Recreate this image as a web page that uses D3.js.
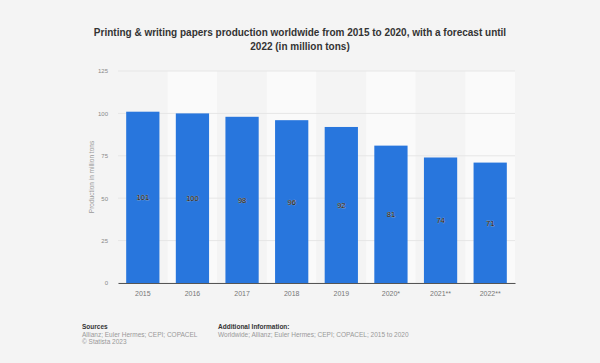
<!DOCTYPE html>
<html>
<head>
<meta charset="utf-8">
<script src="https://cdn.jsdelivr.net/npm/d3@7"></script>
<style>
  body { margin: 0; background: #f4f4f4; }
  svg { display: block; font-family: "Liberation Sans", Arial, sans-serif; }
</style>
</head>
<body>
<svg id="chart" width="600" height="363"></svg>
<script>
const years = ['2015', '2016', '2017', '2018', '2019', '2020*', '2021**', '2022**']
const production = [101, 100, 98, 96, 92, 81, 74, 71]
const yTicks = [0, 25, 50, 75, 100, 125]

const svg = d3.select('#chart')
const margin = { top: 71, right: 85, bottom: 80, left: 118 }
const w = 600 - margin.left - margin.right
const h = 363 - margin.top - margin.bottom

svg.append('rect').attr('width', 600).attr('height', 363).attr('fill', '#f4f4f4')

// title
const title = svg.append('text')
  .attr('x', 300)
  .attr('text-anchor', 'middle')
  .attr('font-size', 10)
  .attr('font-weight', 'bold')
  .attr('fill', '#333')
title.append('tspan').attr('x', 300).attr('y', 36)
  .text('Printing & writing papers production worldwide from 2015 to 2020, with a forecast until')
title.append('tspan').attr('x', 300).attr('y', 50)
  .text('2022 (in million tons)')

const x = d3.scaleBand().domain(years).range([0, w]).paddingInner(0.33).paddingOuter(0.165)
const xBand = d3.scaleBand().domain(years).range([0, w])
const y = d3.scaleLinear().domain([0, 125]).range([h, 0])

const g = svg.append('g').attr('transform', `translate(${margin.left},${margin.top})`)

// alternating column shading
g.selectAll('.col')
  .data(years)
  .enter().append('rect')
  .attr('class', 'col')
  .attr('x', d => xBand(d))
  .attr('y', 0)
  .attr('width', xBand.bandwidth())
  .attr('height', h)
  .attr('fill', (d, i) => i % 2 ? '#fafafa' : '#f4f4f4')

// grid
g.selectAll('.grid')
  .data(yTicks)
  .enter().append('line')
  .attr('x1', 0).attr('x2', w)
  .attr('y1', d => y(d)).attr('y2', d => y(d))
  .attr('stroke', '#e6e6e6')
  .attr('stroke-width', 1)

// bars
g.selectAll('.bar')
  .data(production)
  .enter().append('rect')
  .attr('class', 'bar')
  .attr('x', (d, i) => x(years[i]))
  .attr('y', d => y(d))
  .attr('width', x.bandwidth())
  .attr('height', d => h - y(d))
  .attr('fill', '#2876dd')

// value labels
g.selectAll('.val')
  .data(production)
  .enter().append('text')
  .attr('x', (d, i) => x(years[i]) + x.bandwidth() / 2)
  .attr('y', d => y(d / 2) + 3)
  .attr('text-anchor', 'middle')
  .attr('font-size', 7.5)
  .attr('fill', '#111')
  .attr('stroke', '#bbb')
  .attr('stroke-width', 0.5)
  .attr('paint-order', 'stroke')
  .text(d => d)

// axes
const yAxis = g.append('g').call(d3.axisLeft(y).tickValues(yTicks).tickSize(0).tickPadding(10))
yAxis.select('.domain').remove()
yAxis.selectAll('text').attr('font-size', 6).attr('fill', '#888')

const xAxis = g.append('g').attr('transform', `translate(0,${h})`)
  .call(d3.axisBottom(xBand).tickSize(0).tickPadding(8))
xAxis.select('.domain').attr('stroke', '#555')
xAxis.selectAll('text').attr('font-size', 7).attr('fill', '#777')

svg.append('text')
  .attr('transform', `translate(94,${margin.top + h / 2}) rotate(-90)`)
  .attr('text-anchor', 'middle')
  .attr('font-size', 6.5)
  .attr('fill', '#999')
  .text('Production in million tons')

// footer
const foot = svg.append('g').attr('font-size', 6.5)
foot.append('text').attr('x', 82).attr('y', 329).attr('font-weight', 'bold').attr('fill', '#333').text('Sources')
foot.append('text').attr('x', 82).attr('y', 336.5).attr('fill', '#999').text('Allianz; Euler Hermes; CEPI; COPACEL')
foot.append('text').attr('x', 82).attr('y', 344).attr('fill', '#999').text('© Statista 2023')
foot.append('text').attr('x', 218).attr('y', 329).attr('font-weight', 'bold').attr('fill', '#333').text('Additional Information:')
foot.append('text').attr('x', 218).attr('y', 336.5).attr('fill', '#999').text('Worldwide; Allianz; Euler Hermes; CEPI; COPACEL; 2015 to 2020')
</script>
</body>
</html>
